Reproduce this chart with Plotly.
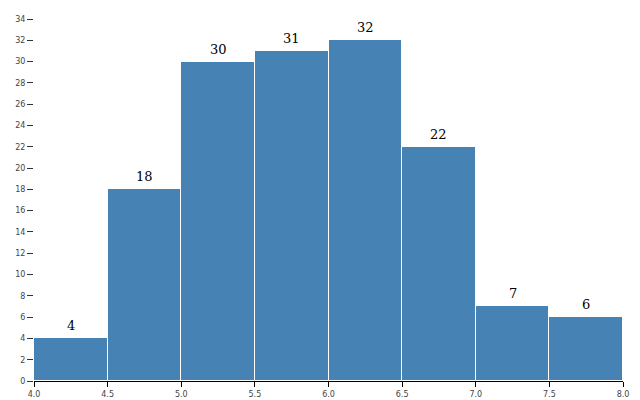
import plotly.graph_objects as go

bin_starts = [4.0, 4.5, 5.0, 5.5, 6.0, 6.5, 7.0, 7.5]
bin_width = 0.5
counts = [4, 18, 30, 31, 32, 22, 7, 6]
x_ticks = [4.0, 4.5, 5.0, 5.5, 6.0, 6.5, 7.0, 7.5, 8.0]
y_ticks = list(range(0, 35, 2))

centers = [s + bin_width / 2 for s in bin_starts]

fig = go.Figure(go.Bar(
    x=centers, y=counts, width=[bin_width] * len(counts),
    marker=dict(color="#4682b4", line=dict(color="white", width=1)),
    hoverinfo="x+y",
))
for cx, c in zip(centers, counts):
    fig.add_annotation(
        x=cx, y=c, text=str(c), showarrow=False,
        yanchor="bottom", yshift=3,
        font=dict(family="DejaVu Serif", size=13, color="black"),
    )
fig.update_layout(
    width=640, height=400,
    margin=dict(l=34, r=17, t=19, b=19),
    plot_bgcolor="white", paper_bgcolor="white",
    bargap=0, showlegend=False,
    font=dict(family="DejaVu Sans", size=8, color="#444"),
)
fig.update_xaxes(
    range=[4.0, 8.0], tickvals=x_ticks, ticktext=[f"{v:.1f}" for v in x_ticks],
    showgrid=False, zeroline=False, showline=True, linecolor="black", linewidth=1,
    ticks="outside", ticklen=5, tickcolor="black", automargin=False,
)
fig.update_yaxes(
    range=[0, 34], tickvals=y_ticks,
    showgrid=False, zeroline=False, showline=False,
    ticks="outside", ticklen=6, tickcolor="#333", automargin=False,
)
fig.write_html(
    "out.html",
    config={"displayModeBar": False},
    post_script="document.body.style.margin='0';document.body.style.overflow='hidden';",
)
